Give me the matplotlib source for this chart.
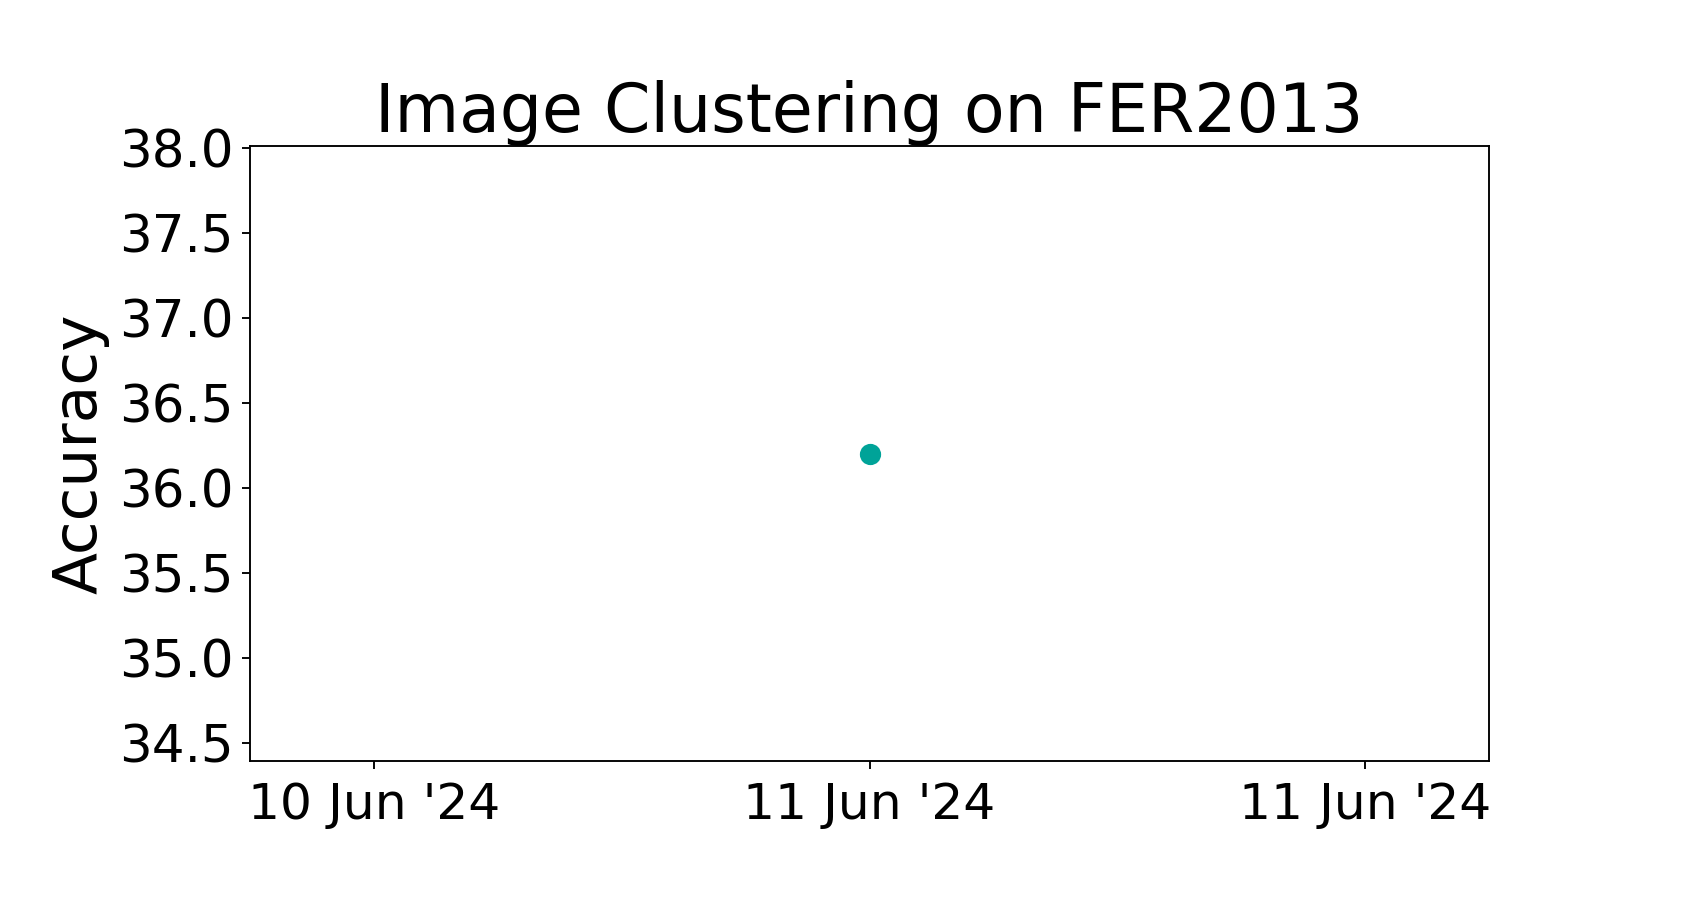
import matplotlib
matplotlib.use('Agg')
import matplotlib.pyplot as plt
import matplotlib.dates as mdates
from matplotlib.ticker import MultipleLocator
from datetime import datetime, timedelta

# data
dates = [datetime(2024, 6, 11, 0, 0)]
accuracy = [36.2]

fig, ax = plt.subplots(figsize=(10, 900 / 170), dpi=170)
fig.subplots_adjust(left=0.147, right=0.876, top=0.838, bottom=0.154)

ax.plot(dates, accuracy, 'o', color='#00A398', markersize=8)

# x range around the single point
ax.set_xlim(dates[0] - timedelta(hours=15), dates[0] + timedelta(hours=15))
ax.xaxis.set_major_locator(mdates.HourLocator(byhour=[0, 12]))
ax.xaxis.set_major_formatter(mdates.DateFormatter("%d %b '%y"))

# y range: single value expanded by 5%, no margins
ax.set_ylim(accuracy[0] * 0.95, accuracy[0] * 1.05)
ax.yaxis.set_major_locator(MultipleLocator(0.5))

ax.set_title('Image Clustering on FER2013', fontsize=28.2)
ax.set_ylabel('Accuracy', fontsize=26)
ax.tick_params(axis='x', labelsize=21.3, pad=5)
ax.tick_params(axis='y', labelsize=21.8)

plt.savefig('out.png', dpi=170, facecolor='white')
plt.close()
